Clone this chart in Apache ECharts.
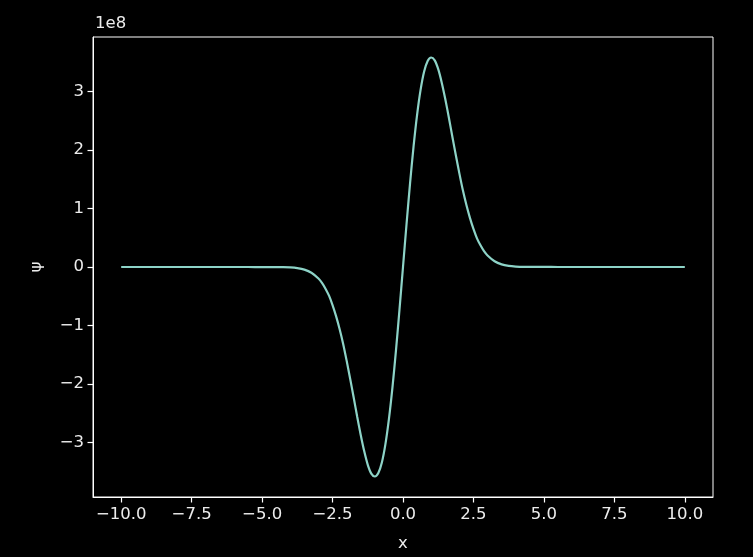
<!DOCTYPE html>
<html>
<head>
<meta charset="utf-8">
<script src="https://cdn.jsdelivr.net/npm/echarts@6/dist/echarts.min.js"></script>
<style>
html,body{margin:0;padding:0;background:#000;}
#c{width:753px;height:557px;}
</style>
</head>
<body>
<div id="c"></div>
<script>
// x positions
const xs = [-10, -9, -8, -7, -6, -5.5, -5, -4.75, -4.5, -4.25, -4, -3.75, -3.5, -3.25, -3, -2.875, -2.75, -2.625, -2.5, -2.375, -2.25, -2.125, -2, -1.875, -1.75, -1.625, -1.5, -1.375, -1.25, -1.125, -1, -0.875, -0.75, -0.625, -0.5, -0.375, -0.25, -0.125, 0, 0.125, 0.25, 0.375, 0.5, 0.625, 0.75, 0.875, 1, 1.125, 1.25, 1.375, 1.5, 1.625, 1.75, 1.875, 2, 2.125, 2.25, 2.375, 2.5, 2.625, 2.75, 2.875, 3, 3.25, 3.5, 3.75, 4, 4.25, 4.5, 4.75, 5, 5.5, 6, 7, 8, 9, 10];
// psi values in units of 1e8
const psiE8 = [0, 0, 0, 0, 0, 0, -0.001, -0.001, -0.003, -0.003, -0.008, -0.02, -0.045, -0.098, -0.197, -0.27, -0.37, -0.49, -0.65, -0.84, -1.06, -1.31, -1.6, -1.91, -2.23, -2.56, -2.87, -3.15, -3.38, -3.53, -3.58, -3.52, -3.34, -3.03, -2.6, -2.06, -1.43, -0.73, 0, 0.73, 1.43, 2.06, 2.6, 3.03, 3.34, 3.52, 3.58, 3.53, 3.38, 3.15, 2.87, 2.56, 2.23, 1.91, 1.6, 1.31, 1.06, 0.84, 0.65, 0.49, 0.37, 0.27, 0.197, 0.098, 0.045, 0.02, 0.008, 0.003, 0.003, 0.001, 0.001, 0, 0, 0, 0, 0, 0];
const xTicks = [-10, -7.5, -5, -2.5, 0, 2.5, 5, 7.5, 10];
const yTicks = [-3, -2, -1, 0, 1, 2, 3];
const xName = 'x';
const yName = 'ψ';
const yOffsetText = '1e8';

const X_MIN = -11, X_MAX = 11, Y_MIN = -3.93, Y_MAX = 3.93;
const fmt = (v, d) => Number(v).toFixed(d).replace('-', '\u2212');
const txt = '#ececec';
const font = 'DejaVu Sans';

const chart = echarts.init(document.getElementById('c'), null, {renderer: 'canvas'});
chart.setOption({
  backgroundColor: '#000',
  animation: false,
  grid: {left: 93, right: 40, top: 37, bottom: 60, show: true, borderColor: '#ffffff', borderWidth: 1},
  xAxis: [{
    type: 'value', min: X_MIN, max: X_MAX,
    axisLine: {show: true, onZero: false, lineStyle: {color: '#ffffff', width: 1}},
    splitLine: {show: false},
    axisTick: {show: true, length: 5.5, lineStyle: {color: '#ffffff', width: 1.2}, customValues: xTicks},
    axisLabel: {show: true, color: txt, fontFamily: font, fontSize: 16.5, margin: 9, customValues: xTicks, formatter: v => fmt(v, 1)},
    name: xName, nameLocation: 'middle', nameGap: 38,
    nameTextStyle: {color: txt, fontFamily: font, fontSize: 16.5}
  }],
  yAxis: [{
    type: 'value', min: Y_MIN, max: Y_MAX,
    axisLine: {show: true, onZero: false, lineStyle: {color: '#ffffff', width: 1}},
    splitLine: {show: false},
    axisTick: {show: true, length: 5.5, lineStyle: {color: '#ffffff', width: 1.2}, customValues: yTicks},
    axisLabel: {show: true, color: txt, fontFamily: font, fontSize: 16.5, margin: 9, customValues: yTicks, formatter: v => fmt(v, 0)},
    name: yName, nameLocation: 'middle', nameGap: 48, nameRotate: 90,
    nameTextStyle: {color: txt, fontFamily: font, fontSize: 16.5}
  }],
  graphic: [{
    type: 'text', left: 95, top: 15,
    style: {text: yOffsetText, fill: txt, font: '16.5px "DejaVu Sans"'}
  }],
  series: [{
    type: 'line',
    data: xs.map((x, i) => [x, psiE8[i]]),
    showSymbol: false,
    smooth: 0.3,
    lineStyle: {color: '#8dd3c7', width: 2.2},
    itemStyle: {color: '#8dd3c7'}
  }]
});
</script>
</body>
</html>
